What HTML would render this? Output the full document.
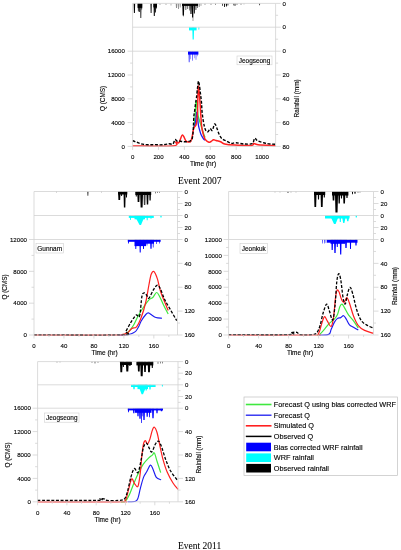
<!DOCTYPE html>
<html><head><meta charset="utf-8"><title>Figure</title>
<style>html,body{margin:0;padding:0;background:#fff;}body{width:401px;height:550px;overflow:hidden;}svg{display:block;}</style>
</head><body>
<svg width="401" height="550" viewBox="0 0 401 550">
<rect width="401" height="550" fill="#fff"/>
<rect x="137.6" y="3.4" width="4.6" height="4.5" fill="#000000"/>
<rect x="153.4" y="3.4" width="3.6" height="4" fill="#000000"/>
<rect x="182" y="3.4" width="16" height="2.5" fill="#000000"/>
<path d="M133.65,3.4H135.15L134.89,12.9H133.91ZM137.75,3.4H138.85L138.66,11.4H137.94ZM138.85,3.4H139.95L139.76,11.9H139.04ZM141.35,3.4H142.25L142.1,9.4H141.5ZM150.45,3.4H151.75L151.52,12.9H150.68ZM153.55,3.4H155.05L154.79,15.9H153.81ZM155,3.4H156.2L155.99,12.4H155.21ZM156.15,3.4H157.05L156.9,8.4H156.3ZM182.3,3.4H184.3L183.95,15.4H182.65ZM190.2,3.4H191.8L191.52,13.9H190.48ZM191.8,3.4H193.4L193.12,17.4H192.08ZM224,3.4H225.2L224.99,6.9H224.21ZM226,3.4H227.2L226.99,6.4H226.21ZM234.5,3.4H235.5L235.32,5.9H234.68ZM259.3,3.4H260.1L260,5.2H259.4Z" fill="#000000"/>
<path d="M140.05,3.4H141.55L141.29,17.9H140.31ZM222,3.4H223L222.82,5.9H222.18ZM227.5,3.4H228.5L228.32,5.4H227.68Z" fill="#000000" fill-opacity="0.8"/>
<path d="M159.7,3.4H160.3L160.3,5H159.7ZM165.7,3.4H166.3L166.3,5H165.7ZM170.7,3.4H171.3L171.3,5.4H170.7ZM186.8,3.4H188.4L188.12,8.9H187.08ZM204.6,3.4H205.4L205.3,4.9H204.7ZM240.5,3.4H241.5L241.32,4.9H240.68Z" fill="#000000" fill-opacity="0.5"/>
<path d="M175.75,3.4H177.25L176.99,7.9H176.01ZM198.5,3.4H199.9L199.66,6.9H198.74Z" fill="#000000" fill-opacity="0.45"/>
<path d="M177.75,3.4H179.25L178.99,8.9H178.01ZM179.7,3.4H180.9L180.69,7.4H179.91ZM243.6,3.4H244.4L244.3,4.6H243.7Z" fill="#000000" fill-opacity="0.4"/>
<path d="M183.2,3.4H184L183.9,16.4H183.3ZM188.9,3.4H190.1L189.89,10.4H189.11ZM192.6,3.4H193.4L193.3,20.9H192.7ZM196.7,3.4H198.1L197.86,7.9H196.94ZM210.6,3.4H211.4L211.3,4.9H210.7ZM215.1,3.4H215.9L215.8,4.9H215.2ZM233,3.4H234L233.82,5.4H233.18ZM236.5,3.4H237.5L237.32,4.9H236.68Z" fill="#000000" fill-opacity="0.6"/>
<path d="M185,3.4H186.6L186.32,9.9H185.28Z" fill="#000000" fill-opacity="0.55"/>
<path d="M193.7,3.4H195.1L194.86,13.4H193.94Z" fill="#000000" fill-opacity="0.9"/>
<path d="M195.2,3.4H196.6L196.36,9.9H195.44Z" fill="#000000" fill-opacity="0.7"/>
<path d="M200.4,3.4H201.6L201.39,5.9H200.61Z" fill="#000000" fill-opacity="0.35"/>
<rect x="189" y="27.2" width="7.6" height="3.2" fill="#00ffff"/>
<path d="M192.3,27.2H194.1L193.78,39.5H192.61ZM198.4,27.2H199.4L199.22,29.7H198.58Z" fill="#00ffff"/>
<rect x="188" y="51.2" width="10.4" height="3.4" fill="#0000ff"/>
<path d="M188.5,51.2H189.9L189.66,62.2H188.74Z" fill="#0000ff" fill-opacity="0.75"/>
<path d="M190.2,51.2H191L190.9,59.2H190.3Z" fill="#0000ff" fill-opacity="0.55"/>
<path d="M192.05,51.2H193.15L192.96,60.7H192.24Z" fill="#0000ff" fill-opacity="0.65"/>
<path d="M194.1,51.2H194.9L194.8,58.2H194.2ZM197.1,51.2H197.9L197.8,56.2H197.2Z" fill="#0000ff" fill-opacity="0.5"/>
<path d="M195.45,51.2H196.55L196.36,59.7H195.64Z" fill="#0000ff" fill-opacity="0.6"/>
<path d="M193.6,127.5 C193.7,127.17 193.98,126.75 194.2,125.5 C194.42,124.25 194.68,122.58 194.9,120 C195.12,117.42 195.3,113.17 195.5,110 C195.7,106.83 195.88,101.83 196.1,101 C196.32,100.17 196.57,103.5 196.8,105 C197.03,106.5 197.3,108.33 197.5,110 C197.7,111.67 197.7,113.33 198,115 C198.3,116.67 198.82,118.33 199.3,120 C199.78,121.67 200.37,123.25 200.9,125 C201.43,126.75 201.98,128.83 202.5,130.5 C203.02,132.17 203.58,133.83 204,135 C204.42,136.17 204.83,137.08 205,137.5" fill="none" stroke="#3fe83f" stroke-width="1.35" stroke-linejoin="round"/>
<path d="M193.6,127.5 C193.82,127.08 194.53,126.25 194.9,125 C195.27,123.75 195.55,121.67 195.8,120 C196.05,118.33 196.23,116.3 196.4,115 C196.57,113.7 196.62,111.87 196.8,112.2 C196.98,112.53 197.23,114.87 197.5,117 C197.77,119.13 198.05,122.83 198.4,125 C198.75,127.17 199.17,128.42 199.6,130 C200.03,131.58 200.35,133.03 201,134.5 C201.65,135.97 202.83,137.85 203.5,138.8 C204.17,139.75 204.75,139.97 205,140.2" fill="none" stroke="#1c1cf0" stroke-width="1.3" stroke-linejoin="round"/>
<path d="M132.6,146 C139.33,146 165.77,146.67 173,146 C180.23,145.33 175,142.57 176,142 C177,141.43 177.93,143.77 179,142.6 C180.07,141.43 181.23,135.27 182.4,135 C183.57,134.73 184.9,139.83 186,141 C187.1,142.17 188.25,141.92 189,142 C189.75,142.08 190,142.25 190.5,141.5 C191,140.75 191.53,139.42 192,137.5 C192.47,135.58 192.88,131.75 193.3,130 C193.72,128.25 194.05,127.83 194.5,127 C194.95,126.17 195.62,126 196,125 C196.38,124 196.57,122.83 196.8,121 C197.03,119.17 197.25,116.67 197.4,114 C197.55,111.33 197.6,108.67 197.7,105 C197.8,101.33 197.88,95.17 198,92 C198.12,88.83 198.23,86.33 198.4,86 C198.57,85.67 198.8,88.17 199,90 C199.2,91.83 199.4,94.5 199.6,97 C199.8,99.5 200,102 200.2,105 C200.4,108 200.58,111.67 200.8,115 C201.02,118.33 201.22,122.33 201.5,125 C201.78,127.67 202.08,129.08 202.5,131 C202.92,132.92 203.5,135.03 204,136.5 C204.5,137.97 204.68,138.83 205.5,139.8 C206.32,140.77 207.98,142.02 208.9,142.3 C209.82,142.58 210.22,141.92 211,141.5 C211.78,141.08 212.77,139.97 213.6,139.8 C214.43,139.63 214.85,140.17 216,140.5 C217.15,140.83 219.05,141.22 220.5,141.8 C221.95,142.38 222.38,143.45 224.7,144 C227.02,144.55 229.93,144.87 234.4,145.1 C238.87,145.33 248.3,145.68 251.5,145.4 C254.7,145.12 252.52,143.5 253.6,143.4 C254.68,143.3 254.33,144.4 258,144.8 C261.67,145.2 272.67,145.63 275.6,145.8" fill="none" stroke="#ff2020" stroke-width="1.5" stroke-linejoin="round"/>
<path d="M132.6,140.6 C133,140.77 134.1,141.27 135,141.6 C135.9,141.93 137,142.23 138,142.6 C139,142.97 139.83,143.47 141,143.8 C142.17,144.13 143.5,144.43 145,144.6 C146.5,144.77 148.33,144.8 150,144.8 C151.67,144.8 153.33,144.58 155,144.6 C156.67,144.62 158.33,144.92 160,144.9 C161.67,144.88 163.5,144.68 165,144.5 C166.5,144.32 167.83,143.85 169,143.8 C170.17,143.75 171.25,144.3 172,144.2 C172.75,144.1 173,143.97 173.5,143.2 C174,142.43 174.42,139.97 175,139.6 C175.58,139.23 176.33,140.77 177,141 C177.67,141.23 178.17,140.92 179,141 C179.83,141.08 181,141.37 182,141.5 C183,141.63 184,141.78 185,141.8 C186,141.82 187.17,141.73 188,141.6 C188.83,141.47 189.33,141.35 190,141 C190.67,140.65 191.5,140.83 192,139.5 C192.5,138.17 192.77,135.08 193,133 C193.23,130.92 193.3,128.83 193.4,127 C193.5,125.17 193.52,123.83 193.6,122 C193.68,120.17 193.75,117.67 193.9,116 C194.05,114.33 194.23,114 194.5,112 C194.77,110 195.17,106.42 195.5,104 C195.83,101.58 196.17,100.17 196.5,97.5 C196.83,94.83 197.17,90.72 197.5,88 C197.83,85.28 198.17,81.53 198.5,81.2 C198.83,80.87 199.17,83.87 199.5,86 C199.83,88.13 200.17,91.23 200.5,94 C200.83,96.77 201.25,99.77 201.5,102.6 C201.75,105.43 201.75,108.27 202,111 C202.25,113.73 202.62,116.5 203,119 C203.38,121.5 203.83,124.08 204.3,126 C204.77,127.92 205.22,129.53 205.8,130.5 C206.38,131.47 207.07,132.1 207.8,131.8 C208.53,131.5 209.45,128.92 210.2,128.7 C210.95,128.48 211.55,131.28 212.3,130.5 C213.05,129.72 213.92,124.33 214.7,124 C215.48,123.67 216.28,126.83 217,128.5 C217.72,130.17 218.2,132.33 219,134 C219.8,135.67 220.58,137.33 221.8,138.5 C223.02,139.67 224.73,140.2 226.3,141 C227.87,141.8 229.58,143.02 231.2,143.3 C232.82,143.58 233.83,142.58 236,142.7 C238.17,142.82 241.48,143.87 244.2,144 C246.92,144.13 250.55,144.47 252.3,143.5 C254.05,142.53 253.75,138.62 254.7,138.2 C255.65,137.78 255.97,140.12 258,141 C260.03,141.88 263.97,142.95 266.9,143.5 C269.83,144.05 274.15,144.17 275.6,144.3" fill="none" stroke="#000000" stroke-width="1.4" stroke-linejoin="round" stroke-dasharray="3,1.6"/>
<line x1="132.6" y1="3.4" x2="275.6" y2="3.4" stroke="#d2d2d2" stroke-width="0.8"/>
<line x1="132.6" y1="27.2" x2="275.6" y2="27.2" stroke="#d2d2d2" stroke-width="0.8"/>
<line x1="132.6" y1="51.2" x2="275.6" y2="51.2" stroke="#d2d2d2" stroke-width="0.8"/>
<line x1="132.6" y1="3.4" x2="132.6" y2="146.4" stroke="#d2d2d2" stroke-width="0.8"/>
<line x1="275.6" y1="3.4" x2="275.6" y2="146.4" stroke="#d2d2d2" stroke-width="0.8"/>
<line x1="132.6" y1="146.4" x2="275.6" y2="146.4" stroke="#d2d2d2" stroke-width="0.8"/>
<line x1="127.6" y1="51.2" x2="132.6" y2="51.2" stroke="#d2d2d2" stroke-width="0.8"/>
<text x="124.8" y="53.4" font-size="6.15" text-anchor="end" fill="#000000" font-family="'Liberation Sans', Arial, sans-serif" stroke="#000000" stroke-width="0.12">16000</text>
<line x1="127.6" y1="75" x2="132.6" y2="75" stroke="#d2d2d2" stroke-width="0.8"/>
<text x="124.8" y="77.2" font-size="6.15" text-anchor="end" fill="#000000" font-family="'Liberation Sans', Arial, sans-serif" stroke="#000000" stroke-width="0.12">12000</text>
<line x1="127.6" y1="98.8" x2="132.6" y2="98.8" stroke="#d2d2d2" stroke-width="0.8"/>
<text x="124.8" y="101" font-size="6.15" text-anchor="end" fill="#000000" font-family="'Liberation Sans', Arial, sans-serif" stroke="#000000" stroke-width="0.12">8000</text>
<line x1="127.6" y1="122.6" x2="132.6" y2="122.6" stroke="#d2d2d2" stroke-width="0.8"/>
<text x="124.8" y="124.8" font-size="6.15" text-anchor="end" fill="#000000" font-family="'Liberation Sans', Arial, sans-serif" stroke="#000000" stroke-width="0.12">4000</text>
<line x1="127.6" y1="146.4" x2="132.6" y2="146.4" stroke="#d2d2d2" stroke-width="0.8"/>
<text x="124.8" y="148.6" font-size="6.15" text-anchor="end" fill="#000000" font-family="'Liberation Sans', Arial, sans-serif" stroke="#000000" stroke-width="0.12">0</text>
<line x1="130.1" y1="63.1" x2="132.6" y2="63.1" stroke="#d2d2d2" stroke-width="0.8"/>
<line x1="130.1" y1="86.9" x2="132.6" y2="86.9" stroke="#d2d2d2" stroke-width="0.8"/>
<line x1="130.1" y1="110.7" x2="132.6" y2="110.7" stroke="#d2d2d2" stroke-width="0.8"/>
<line x1="130.1" y1="134.5" x2="132.6" y2="134.5" stroke="#d2d2d2" stroke-width="0.8"/>
<line x1="275.6" y1="3.4" x2="280.6" y2="3.4" stroke="#d2d2d2" stroke-width="0.8"/>
<text x="282.6" y="5.6" font-size="6.15" text-anchor="start" fill="#000000" font-family="'Liberation Sans', Arial, sans-serif" stroke="#000000" stroke-width="0.12">0</text>
<line x1="275.6" y1="27.2" x2="280.6" y2="27.2" stroke="#d2d2d2" stroke-width="0.8"/>
<text x="282.6" y="29.4" font-size="6.15" text-anchor="start" fill="#000000" font-family="'Liberation Sans', Arial, sans-serif" stroke="#000000" stroke-width="0.12">0</text>
<line x1="275.6" y1="51.2" x2="280.6" y2="51.2" stroke="#d2d2d2" stroke-width="0.8"/>
<text x="282.6" y="53.4" font-size="6.15" text-anchor="start" fill="#000000" font-family="'Liberation Sans', Arial, sans-serif" stroke="#000000" stroke-width="0.12">0</text>
<line x1="275.6" y1="75" x2="280.6" y2="75" stroke="#d2d2d2" stroke-width="0.8"/>
<text x="282.6" y="77.2" font-size="6.15" text-anchor="start" fill="#000000" font-family="'Liberation Sans', Arial, sans-serif" stroke="#000000" stroke-width="0.12">20</text>
<line x1="275.6" y1="98.8" x2="280.6" y2="98.8" stroke="#d2d2d2" stroke-width="0.8"/>
<text x="282.6" y="101" font-size="6.15" text-anchor="start" fill="#000000" font-family="'Liberation Sans', Arial, sans-serif" stroke="#000000" stroke-width="0.12">40</text>
<line x1="275.6" y1="122.6" x2="280.6" y2="122.6" stroke="#d2d2d2" stroke-width="0.8"/>
<text x="282.6" y="124.8" font-size="6.15" text-anchor="start" fill="#000000" font-family="'Liberation Sans', Arial, sans-serif" stroke="#000000" stroke-width="0.12">60</text>
<line x1="275.6" y1="146.4" x2="280.6" y2="146.4" stroke="#d2d2d2" stroke-width="0.8"/>
<text x="282.6" y="148.6" font-size="6.15" text-anchor="start" fill="#000000" font-family="'Liberation Sans', Arial, sans-serif" stroke="#000000" stroke-width="0.12">80</text>
<line x1="275.6" y1="15.3" x2="278.1" y2="15.3" stroke="#d2d2d2" stroke-width="0.8"/>
<line x1="275.6" y1="39.2" x2="278.1" y2="39.2" stroke="#d2d2d2" stroke-width="0.8"/>
<line x1="275.6" y1="63.1" x2="278.1" y2="63.1" stroke="#d2d2d2" stroke-width="0.8"/>
<line x1="275.6" y1="86.9" x2="278.1" y2="86.9" stroke="#d2d2d2" stroke-width="0.8"/>
<line x1="275.6" y1="110.7" x2="278.1" y2="110.7" stroke="#d2d2d2" stroke-width="0.8"/>
<line x1="275.6" y1="134.5" x2="278.1" y2="134.5" stroke="#d2d2d2" stroke-width="0.8"/>
<line x1="132.6" y1="146.4" x2="132.6" y2="149.9" stroke="#d2d2d2" stroke-width="0.8"/>
<text x="132.6" y="159.2" font-size="6.15" text-anchor="middle" fill="#000000" font-family="'Liberation Sans', Arial, sans-serif" stroke="#000000" stroke-width="0.12">0</text>
<line x1="158.5" y1="146.4" x2="158.5" y2="149.9" stroke="#d2d2d2" stroke-width="0.8"/>
<text x="158.5" y="159.2" font-size="6.15" text-anchor="middle" fill="#000000" font-family="'Liberation Sans', Arial, sans-serif" stroke="#000000" stroke-width="0.12">200</text>
<line x1="184.4" y1="146.4" x2="184.4" y2="149.9" stroke="#d2d2d2" stroke-width="0.8"/>
<text x="184.4" y="159.2" font-size="6.15" text-anchor="middle" fill="#000000" font-family="'Liberation Sans', Arial, sans-serif" stroke="#000000" stroke-width="0.12">400</text>
<line x1="210.3" y1="146.4" x2="210.3" y2="149.9" stroke="#d2d2d2" stroke-width="0.8"/>
<text x="210.3" y="159.2" font-size="6.15" text-anchor="middle" fill="#000000" font-family="'Liberation Sans', Arial, sans-serif" stroke="#000000" stroke-width="0.12">600</text>
<line x1="236.2" y1="146.4" x2="236.2" y2="149.9" stroke="#d2d2d2" stroke-width="0.8"/>
<text x="236.2" y="159.2" font-size="6.15" text-anchor="middle" fill="#000000" font-family="'Liberation Sans', Arial, sans-serif" stroke="#000000" stroke-width="0.12">800</text>
<line x1="262.1" y1="146.4" x2="262.1" y2="149.9" stroke="#d2d2d2" stroke-width="0.8"/>
<text x="262.1" y="159.2" font-size="6.15" text-anchor="middle" fill="#000000" font-family="'Liberation Sans', Arial, sans-serif" stroke="#000000" stroke-width="0.12">1000</text>
<text x="203" y="165.7" font-size="6.5" text-anchor="middle" fill="#000000" font-family="'Liberation Sans', Arial, sans-serif" stroke="#000000" stroke-width="0.12">Time (hr)</text>
<text x="105" y="98.5" font-size="6.4" text-anchor="middle" fill="#000000" font-family="'Liberation Sans', Arial, sans-serif" stroke="#000000" stroke-width="0.12" transform="rotate(-90 105 98.5)">Q (CMS)</text>
<text x="298.8" y="98.4" font-size="6.4" text-anchor="middle" fill="#000000" font-family="'Liberation Sans', Arial, sans-serif" stroke="#000000" stroke-width="0.12" transform="rotate(-90 298.8 98.4)">Rainfall (mm)</text>
<rect x="237" y="56" width="35" height="8.8" fill="#fff" stroke="#d0d0d0" stroke-width="0.6"/>
<text x="254.5" y="62.6" font-size="6.45" text-anchor="middle" fill="#000000" font-family="'Liberation Sans', Arial, sans-serif" stroke="#000000" stroke-width="0.12">Jeogseong</text>
<text x="199.8" y="183.6" font-size="9.5" text-anchor="middle" fill="#000000" font-family="'Liberation Serif', 'Times New Roman', serif" stroke="#000000" stroke-width="0.05">Event 2007</text>
<rect x="118.2" y="191.5" width="9" height="3" fill="#000000"/>
<rect x="135.4" y="191.5" width="15.8" height="3.5" fill="#000000"/>
<path d="M118,191.5H120.6L120.14,200H118.45ZM120.9,191.5H122.3L122.05,196H121.14ZM123.5,191.5H125.7L125.31,207.5H123.88ZM125.8,191.5H127.2L126.95,197.5H126.05ZM135.6,191.5H137L136.76,196.5H135.84ZM137.2,191.5H139.8L139.34,202H137.66ZM140.1,191.5H143.1L142.57,207.5H140.62ZM146.4,191.5H148.6L148.22,204.5H146.78ZM149.2,191.5H151L150.69,200.5H149.51ZM87.4,191.5H88.4L88.23,195.8H87.58Z" fill="#000000"/>
<path d="M143.5,191.5H145.7L145.31,205H143.88Z" fill="#000000" fill-opacity="0.75"/>
<path d="M155,191.5H156L155.82,193.5H155.18ZM157,191.5H158L157.82,193.1H157.18Z" fill="#000000" fill-opacity="0.6"/>
<path d="M159,191.5H160L159.82,192.9H159.18Z" fill="#000000" fill-opacity="0.5"/>
<path d="M56,191.5H57L56.83,192.5H56.17ZM101,191.5H102L101.83,192.5H101.17Z" fill="#000000" fill-opacity="0.4"/>
<rect x="128.8" y="215.5" width="25" height="2.4" fill="#00ffff"/>
<rect x="134.5" y="215.5" width="10.5" height="3.8" fill="#00ffff"/>
<path d="M134.5,215.5L145,215.5L141,225.1L139.6,225.1Z" fill="#00ffff"/>
<path d="M129.9,215.5H131.1L130.89,220H130.11ZM146.5,215.5H147.9L147.66,220.3H146.74ZM150.5,215.5H151.5L151.32,219H150.68ZM160.2,215.5H161.8L161.52,217.5H160.48Z" fill="#00ffff"/>
<rect x="127.8" y="239.5" width="32.8" height="2.3" fill="#0000ff"/>
<rect x="134.5" y="239.5" width="11.5" height="6.6" fill="#0000ff"/>
<rect x="146" y="239.5" width="8" height="4.2" fill="#0000ff"/>
<path d="M127.9,239.5H129.1L128.89,243.5H128.11ZM135.1,239.5H136.5L136.26,249H135.34ZM139.4,239.5H141L140.72,252.5H139.68ZM142.8,239.5H144.2L143.96,249H143.04ZM146.5,239.5H147.5L147.32,245.5H146.68ZM150.1,239.5H151.9L151.59,248.8H150.41ZM152.7,239.5H153.7L153.52,247.5H152.88ZM156.25,239.5H157.15L157,244H156.4ZM159.25,239.5H160.15L160,243.5H159.4Z" fill="#0000ff"/>
<path d="M124,335 C124.8,334.42 127.22,333.12 128.8,331.5 C130.38,329.88 131.95,327.88 133.5,325.3 C135.05,322.72 136.3,319.22 138.1,316 C139.9,312.78 142.5,308.7 144.3,306 C146.1,303.3 147.48,301.22 148.9,299.8 C150.32,298.38 151.52,298.72 152.8,297.5 C154.08,296.28 155.45,292.63 156.6,292.5 C157.75,292.37 158.4,294.33 159.7,296.7 C161,299.07 162.98,303.82 164.4,306.7 C165.82,309.58 167.57,312.78 168.2,314" fill="none" stroke="#3fe83f" stroke-width="1.2" stroke-linejoin="round"/>
<path d="M118,335 C119,335 122.1,335.13 124,335 C125.9,334.87 127.9,334.53 129.4,334.2 C130.9,333.87 131.9,333.53 133,333 C134.1,332.47 135,332.17 136,331 C137,329.83 138.13,327.67 139,326 C139.87,324.33 140.07,322.92 141.2,321 C142.33,319.08 144.6,315.85 145.8,314.5 C147,313.15 147.37,312.78 148.4,312.9 C149.43,313.02 150.75,314.43 152,315.2 C153.25,315.97 154.23,316.98 155.9,317.5 C157.57,318.02 160.98,318.17 162,318.3" fill="none" stroke="#1c1cf0" stroke-width="1.15" stroke-linejoin="round"/>
<path d="M34,335 C48,335 103.33,335.07 118,335 C132.67,334.93 120.45,334.93 122,334.6 C123.55,334.27 125.65,334.03 127.3,333 C128.95,331.97 130.37,329.43 131.9,328.4 C133.43,327.37 134.95,328.62 136.5,326.8 C138.05,324.98 139.65,321.63 141.2,317.5 C142.75,313.37 144.52,307.42 145.8,302 C147.08,296.58 148,289.62 148.9,285 C149.8,280.38 150.37,276.55 151.2,274.3 C152.03,272.05 152.87,270.73 153.9,271.5 C154.93,272.27 156.3,275.6 157.4,278.9 C158.5,282.2 159.33,287.57 160.5,291.3 C161.67,295.03 163.12,298.08 164.4,301.3 C165.68,304.52 167.57,309.05 168.2,310.6" fill="none" stroke="#ff2020" stroke-width="1.2" stroke-linejoin="round"/>
<path d="M34,334.8 C48.67,334.8 106.72,335.35 122,334.8 C137.28,334.25 124.3,333.47 125.7,331.5 C127.1,329.53 129.1,325.2 130.4,323 C131.7,320.8 132.48,319.67 133.5,318.3 C134.52,316.93 135.48,315.18 136.5,314.8 C137.52,314.42 138.68,319.13 139.6,316 C140.52,312.87 141.17,299.87 142,296 C142.83,292.13 143.83,292.95 144.6,292.8 C145.37,292.65 145.88,294.2 146.6,295.1 C147.32,296 147.75,299.1 148.9,298.2 C150.05,297.3 152.08,291.88 153.5,289.7 C154.92,287.52 156.23,285.22 157.4,285.1 C158.57,284.98 159.33,286.68 160.5,289 C161.67,291.32 162.73,295.53 164.4,299 C166.07,302.47 168.45,306.2 170.5,309.8 C172.55,313.4 175.67,318.8 176.7,320.6" fill="none" stroke="#000000" stroke-width="1.3" stroke-linejoin="round" stroke-dasharray="3,1.6"/>
<line x1="34" y1="191.5" x2="177.5" y2="191.5" stroke="#d2d2d2" stroke-width="0.8"/>
<line x1="34" y1="215.5" x2="177.5" y2="215.5" stroke="#d2d2d2" stroke-width="0.8"/>
<line x1="34" y1="239.5" x2="177.5" y2="239.5" stroke="#d2d2d2" stroke-width="0.8"/>
<line x1="34" y1="191.5" x2="34" y2="335" stroke="#d2d2d2" stroke-width="0.8"/>
<line x1="177.5" y1="191.5" x2="177.5" y2="335" stroke="#d2d2d2" stroke-width="0.8"/>
<line x1="34" y1="335" x2="177.5" y2="335" stroke="#d2d2d2" stroke-width="0.8"/>
<line x1="29" y1="239.5" x2="34" y2="239.5" stroke="#d2d2d2" stroke-width="0.8"/>
<text x="27" y="241.7" font-size="6.15" text-anchor="end" fill="#000000" font-family="'Liberation Sans', Arial, sans-serif" stroke="#000000" stroke-width="0.12">12000</text>
<line x1="29" y1="271.33" x2="34" y2="271.33" stroke="#d2d2d2" stroke-width="0.8"/>
<text x="27" y="273.53" font-size="6.15" text-anchor="end" fill="#000000" font-family="'Liberation Sans', Arial, sans-serif" stroke="#000000" stroke-width="0.12">8000</text>
<line x1="29" y1="303.17" x2="34" y2="303.17" stroke="#d2d2d2" stroke-width="0.8"/>
<text x="27" y="305.37" font-size="6.15" text-anchor="end" fill="#000000" font-family="'Liberation Sans', Arial, sans-serif" stroke="#000000" stroke-width="0.12">4000</text>
<line x1="29" y1="335" x2="34" y2="335" stroke="#d2d2d2" stroke-width="0.8"/>
<text x="27" y="337.2" font-size="6.15" text-anchor="end" fill="#000000" font-family="'Liberation Sans', Arial, sans-serif" stroke="#000000" stroke-width="0.12">0</text>
<line x1="31.5" y1="255.42" x2="34" y2="255.42" stroke="#d2d2d2" stroke-width="0.8"/>
<line x1="31.5" y1="287.25" x2="34" y2="287.25" stroke="#d2d2d2" stroke-width="0.8"/>
<line x1="31.5" y1="319.08" x2="34" y2="319.08" stroke="#d2d2d2" stroke-width="0.8"/>
<line x1="177.5" y1="191.5" x2="182.5" y2="191.5" stroke="#d2d2d2" stroke-width="0.8"/>
<text x="184.5" y="193.7" font-size="6.15" text-anchor="start" fill="#000000" font-family="'Liberation Sans', Arial, sans-serif" stroke="#000000" stroke-width="0.12">0</text>
<line x1="177.5" y1="203.5" x2="182.5" y2="203.5" stroke="#d2d2d2" stroke-width="0.8"/>
<text x="184.5" y="205.7" font-size="6.15" text-anchor="start" fill="#000000" font-family="'Liberation Sans', Arial, sans-serif" stroke="#000000" stroke-width="0.12">20</text>
<line x1="177.5" y1="215.5" x2="182.5" y2="215.5" stroke="#d2d2d2" stroke-width="0.8"/>
<text x="184.5" y="217.7" font-size="6.15" text-anchor="start" fill="#000000" font-family="'Liberation Sans', Arial, sans-serif" stroke="#000000" stroke-width="0.12">0</text>
<line x1="177.5" y1="227.5" x2="182.5" y2="227.5" stroke="#d2d2d2" stroke-width="0.8"/>
<text x="184.5" y="229.7" font-size="6.15" text-anchor="start" fill="#000000" font-family="'Liberation Sans', Arial, sans-serif" stroke="#000000" stroke-width="0.12">20</text>
<line x1="177.5" y1="239.5" x2="182.5" y2="239.5" stroke="#d2d2d2" stroke-width="0.8"/>
<text x="184.5" y="241.7" font-size="6.15" text-anchor="start" fill="#000000" font-family="'Liberation Sans', Arial, sans-serif" stroke="#000000" stroke-width="0.12">0</text>
<line x1="177.5" y1="263.38" x2="182.5" y2="263.38" stroke="#d2d2d2" stroke-width="0.8"/>
<text x="184.5" y="265.57" font-size="6.15" text-anchor="start" fill="#000000" font-family="'Liberation Sans', Arial, sans-serif" stroke="#000000" stroke-width="0.12">40</text>
<line x1="177.5" y1="287.25" x2="182.5" y2="287.25" stroke="#d2d2d2" stroke-width="0.8"/>
<text x="184.5" y="289.45" font-size="6.15" text-anchor="start" fill="#000000" font-family="'Liberation Sans', Arial, sans-serif" stroke="#000000" stroke-width="0.12">80</text>
<line x1="177.5" y1="311.12" x2="182.5" y2="311.12" stroke="#d2d2d2" stroke-width="0.8"/>
<text x="184.5" y="313.32" font-size="6.15" text-anchor="start" fill="#000000" font-family="'Liberation Sans', Arial, sans-serif" stroke="#000000" stroke-width="0.12">120</text>
<line x1="177.5" y1="335" x2="182.5" y2="335" stroke="#d2d2d2" stroke-width="0.8"/>
<text x="184.5" y="337.2" font-size="6.15" text-anchor="start" fill="#000000" font-family="'Liberation Sans', Arial, sans-serif" stroke="#000000" stroke-width="0.12">160</text>
<line x1="177.5" y1="197.5" x2="180" y2="197.5" stroke="#d2d2d2" stroke-width="0.8"/>
<line x1="177.5" y1="209.5" x2="180" y2="209.5" stroke="#d2d2d2" stroke-width="0.8"/>
<line x1="177.5" y1="221.5" x2="180" y2="221.5" stroke="#d2d2d2" stroke-width="0.8"/>
<line x1="177.5" y1="233.5" x2="180" y2="233.5" stroke="#d2d2d2" stroke-width="0.8"/>
<line x1="177.5" y1="251.44" x2="180" y2="251.44" stroke="#d2d2d2" stroke-width="0.8"/>
<line x1="177.5" y1="275.31" x2="180" y2="275.31" stroke="#d2d2d2" stroke-width="0.8"/>
<line x1="177.5" y1="299.19" x2="180" y2="299.19" stroke="#d2d2d2" stroke-width="0.8"/>
<line x1="177.5" y1="323.06" x2="180" y2="323.06" stroke="#d2d2d2" stroke-width="0.8"/>
<line x1="34" y1="335" x2="34" y2="338.5" stroke="#d2d2d2" stroke-width="0.8"/>
<text x="34" y="347.8" font-size="6.15" text-anchor="middle" fill="#000000" font-family="'Liberation Sans', Arial, sans-serif" stroke="#000000" stroke-width="0.12">0</text>
<line x1="63.96" y1="335" x2="63.96" y2="338.5" stroke="#d2d2d2" stroke-width="0.8"/>
<text x="63.96" y="347.8" font-size="6.15" text-anchor="middle" fill="#000000" font-family="'Liberation Sans', Arial, sans-serif" stroke="#000000" stroke-width="0.12">40</text>
<line x1="93.92" y1="335" x2="93.92" y2="338.5" stroke="#d2d2d2" stroke-width="0.8"/>
<text x="93.92" y="347.8" font-size="6.15" text-anchor="middle" fill="#000000" font-family="'Liberation Sans', Arial, sans-serif" stroke="#000000" stroke-width="0.12">80</text>
<line x1="123.88" y1="335" x2="123.88" y2="338.5" stroke="#d2d2d2" stroke-width="0.8"/>
<text x="123.88" y="347.8" font-size="6.15" text-anchor="middle" fill="#000000" font-family="'Liberation Sans', Arial, sans-serif" stroke="#000000" stroke-width="0.12">120</text>
<line x1="153.84" y1="335" x2="153.84" y2="338.5" stroke="#d2d2d2" stroke-width="0.8"/>
<text x="153.84" y="347.8" font-size="6.15" text-anchor="middle" fill="#000000" font-family="'Liberation Sans', Arial, sans-serif" stroke="#000000" stroke-width="0.12">160</text>
<line x1="48.98" y1="335" x2="48.98" y2="337" stroke="#d2d2d2" stroke-width="0.8"/>
<line x1="78.94" y1="335" x2="78.94" y2="337" stroke="#d2d2d2" stroke-width="0.8"/>
<line x1="108.9" y1="335" x2="108.9" y2="337" stroke="#d2d2d2" stroke-width="0.8"/>
<line x1="138.86" y1="335" x2="138.86" y2="337" stroke="#d2d2d2" stroke-width="0.8"/>
<line x1="168.82" y1="335" x2="168.82" y2="337" stroke="#d2d2d2" stroke-width="0.8"/>
<text x="104.5" y="355" font-size="6.5" text-anchor="middle" fill="#000000" font-family="'Liberation Sans', Arial, sans-serif" stroke="#000000" stroke-width="0.12">Time (hr)</text>
<text x="7.3" y="287" font-size="6.4" text-anchor="middle" fill="#000000" font-family="'Liberation Sans', Arial, sans-serif" stroke="#000000" stroke-width="0.12" transform="rotate(-90 7.3 287)">Q (CMS)</text>
<rect x="36" y="243.3" width="27.4" height="9.7" fill="#fff" stroke="#d0d0d0" stroke-width="0.6"/>
<text x="49.7" y="250.8" font-size="6.45" text-anchor="middle" fill="#000000" font-family="'Liberation Sans', Arial, sans-serif" stroke="#000000" stroke-width="0.12">Gunnam</text>
<rect x="314" y="191.5" width="11.2" height="3.5" fill="#000000"/>
<rect x="332" y="191.5" width="16.4" height="4" fill="#000000"/>
<path d="M314,191.5H316.6L316.15,207H314.45ZM317.7,191.5H319.3L319.02,199.5H317.98ZM320.5,191.5H323.1L322.65,207H320.95ZM323.5,191.5H325.1L324.82,197.5H323.78ZM332.3,191.5H334.7L334.28,200.5H332.72ZM334.9,191.5H338.1L337.54,212.5H335.46ZM338.2,191.5H340.2L339.85,203.5H338.55ZM340.7,191.5H342.3L342.02,198.5H340.98ZM343,191.5H345.4L344.98,203.5H343.42ZM346.1,191.5H347.9L347.58,198H346.42ZM351.9,191.5H353.1L352.89,194.3H352.11ZM354.25,191.5H355.75L355.49,193.7H354.51Z" fill="#000000"/>
<path d="M357.5,191.5H358.5L358.32,193H357.68Z" fill="#000000" fill-opacity="0.6"/>
<path d="M359.5,191.5H360.5L360.32,192.7H359.68ZM290.5,191.5H291.5L291.32,192.5H290.68Z" fill="#000000" fill-opacity="0.5"/>
<path d="M274.5,191.5H275.5L275.32,192.5H274.68ZM279.5,191.5H280.5L280.32,192.5H279.68ZM295.5,191.5H296.5L296.32,192.5H295.68Z" fill="#000000" fill-opacity="0.4"/>
<path d="M287.4,191.5H288.6L288.39,193.1H287.61Z" fill="#000000" fill-opacity="0.8"/>
<rect x="325" y="215.5" width="24.5" height="3" fill="#00ffff"/>
<path d="M330,215.5L339,215.5L335.6,224.1L334,224.1Z M341.8,215.5L346,215.5L344.4,223.0L343.2,223.0Z M346,215.5L349.5,215.5L348.4,221.3L347.2,221.3Z" fill="#00ffff"/>
<path d="M339.5,215.5H341.1L340.82,222H339.78ZM355.55,215.5H357.05L356.79,217.5H355.81Z" fill="#00ffff"/>
<rect x="327" y="239.5" width="30.5" height="3.2" fill="#0000ff"/>
<rect x="330.5" y="239.5" width="14.5" height="4.3" fill="#0000ff"/>
<path d="M322,239.5H323L322.82,243.5H322.18ZM324,239.5H325L324.82,243.5H324.18ZM325.5,239.5H326.5L326.32,243H325.68Z" fill="#0000ff" fill-opacity="0.7"/>
<path d="M331.3,239.5H333.1L332.78,250H331.62ZM334,239.5H336L335.65,253H334.35ZM336.55,239.5H338.05L337.79,247H336.81ZM339.8,239.5H341.6L341.28,254.5H340.12ZM345,239.5H347L346.65,248H345.35ZM349.8,239.5H351.2L350.95,249H350.05ZM355.1,239.5H356.9L356.58,245.5H355.42Z" fill="#0000ff"/>
<path d="M317,335 C317.37,334.95 317.9,335.73 319.2,334.7 C320.5,333.67 323.08,330.72 324.8,328.8 C326.52,326.88 327.92,324.8 329.5,323.2 C331.08,321.6 332.97,320.67 334.3,319.2 C335.63,317.73 336.57,316.52 337.5,314.4 C338.43,312.28 339.15,308.22 339.9,306.5 C340.65,304.78 341.2,303.83 342,304.1 C342.8,304.37 343.58,306.25 344.7,308.1 C345.82,309.95 347.23,313.08 348.7,315.2 C350.17,317.32 351.9,318.67 353.5,320.8 C355.1,322.93 357.5,326.8 358.3,328" fill="none" stroke="#3fe83f" stroke-width="1.2" stroke-linejoin="round"/>
<path d="M318.4,335 C320.12,334.9 326.58,335.3 328.7,334.4 C330.82,333.5 330.17,331.6 331.1,329.6 C332.03,327.6 333.23,324.27 334.3,322.4 C335.37,320.53 336.43,319.2 337.5,318.4 C338.57,317.6 339.68,318.05 340.7,317.6 C341.72,317.15 342.67,315.43 343.6,315.7 C344.53,315.97 345.32,317.68 346.3,319.2 C347.28,320.72 348.3,323.47 349.5,324.8 C350.7,326.13 352.03,326.32 353.5,327.2 C354.97,328.08 357.5,329.62 358.3,330.1" fill="none" stroke="#1c1cf0" stroke-width="1.15" stroke-linejoin="round"/>
<path d="M228.6,335 C242.5,335 297.03,335.23 312,335 C326.97,334.77 316.8,335.43 318.4,333.6 C320,331.77 320.6,326.8 321.6,324 C322.6,321.2 323.47,317.33 324.4,316.8 C325.33,316.27 326.08,319.2 327.2,320.8 C328.32,322.4 330.05,326.93 331.1,326.4 C332.15,325.87 332.75,322.52 333.5,317.6 C334.25,312.68 334.98,301.47 335.6,296.9 C336.22,292.33 336.62,291 337.2,290.2 C337.78,289.4 338.38,290.58 339.1,292.1 C339.82,293.62 340.7,297.57 341.5,299.3 C342.3,301.03 343.02,302.77 343.9,302.5 C344.78,302.23 345.87,297.57 346.8,297.7 C347.73,297.83 348.38,300.25 349.5,303.3 C350.62,306.35 352.03,312.28 353.5,316 C354.97,319.72 356.45,323.2 358.3,325.6 C360.15,328 362.08,329.12 364.6,330.4 C367.12,331.68 371.93,332.82 373.4,333.3" fill="none" stroke="#ff2020" stroke-width="1.2" stroke-linejoin="round"/>
<path d="M228.6,334.6 C238.67,334.6 278.6,334.93 289,334.6 C299.4,334.27 289.67,332.97 291,332.6 C292.33,332.23 295.5,332.07 297,332.4 C298.5,332.73 297.5,334.23 300,334.6 C302.5,334.97 309.2,334.9 312,334.6 C314.8,334.3 315.47,334.3 316.8,332.8 C318.13,331.3 318.93,328.93 320,325.6 C321.07,322.27 322.08,316.38 323.2,312.8 C324.32,309.22 325.65,304.35 326.7,304.1 C327.75,303.85 328.5,308.65 329.5,311.3 C330.5,313.95 331.77,321.07 332.7,320 C333.63,318.93 334.43,311.15 335.1,304.9 C335.77,298.65 336.12,287.68 336.7,282.5 C337.28,277.32 337.93,274.32 338.6,273.8 C339.27,273.28 340,275.7 340.7,279.4 C341.4,283.1 342.2,292.07 342.8,296 C343.4,299.93 343.83,301.8 344.3,303 C344.77,304.2 345.08,304.62 345.6,303.2 C346.12,301.78 346.67,297.15 347.4,294.5 C348.13,291.85 349.12,287.43 350,287.3 C350.88,287.17 351.58,289.97 352.7,293.7 C353.82,297.43 355.25,305.18 356.7,309.7 C358.15,314.22 359.55,318.15 361.4,320.8 C363.25,323.45 365.8,324.4 367.8,325.6 C369.8,326.8 372.47,327.6 373.4,328" fill="none" stroke="#000000" stroke-width="1.3" stroke-linejoin="round" stroke-dasharray="3,1.6"/>
<line x1="228.6" y1="191.5" x2="373.5" y2="191.5" stroke="#d2d2d2" stroke-width="0.8"/>
<line x1="228.6" y1="215.5" x2="373.5" y2="215.5" stroke="#d2d2d2" stroke-width="0.8"/>
<line x1="228.6" y1="239.5" x2="373.5" y2="239.5" stroke="#d2d2d2" stroke-width="0.8"/>
<line x1="228.6" y1="191.5" x2="228.6" y2="335" stroke="#d2d2d2" stroke-width="0.8"/>
<line x1="373.5" y1="191.5" x2="373.5" y2="335" stroke="#d2d2d2" stroke-width="0.8"/>
<line x1="228.6" y1="335" x2="373.5" y2="335" stroke="#d2d2d2" stroke-width="0.8"/>
<line x1="223.6" y1="239.5" x2="228.6" y2="239.5" stroke="#d2d2d2" stroke-width="0.8"/>
<text x="221.8" y="241.7" font-size="6.15" text-anchor="end" fill="#000000" font-family="'Liberation Sans', Arial, sans-serif" stroke="#000000" stroke-width="0.12">12000</text>
<line x1="223.6" y1="255.42" x2="228.6" y2="255.42" stroke="#d2d2d2" stroke-width="0.8"/>
<text x="221.8" y="257.62" font-size="6.15" text-anchor="end" fill="#000000" font-family="'Liberation Sans', Arial, sans-serif" stroke="#000000" stroke-width="0.12">10000</text>
<line x1="223.6" y1="271.33" x2="228.6" y2="271.33" stroke="#d2d2d2" stroke-width="0.8"/>
<text x="221.8" y="273.53" font-size="6.15" text-anchor="end" fill="#000000" font-family="'Liberation Sans', Arial, sans-serif" stroke="#000000" stroke-width="0.12">8000</text>
<line x1="223.6" y1="287.25" x2="228.6" y2="287.25" stroke="#d2d2d2" stroke-width="0.8"/>
<text x="221.8" y="289.45" font-size="6.15" text-anchor="end" fill="#000000" font-family="'Liberation Sans', Arial, sans-serif" stroke="#000000" stroke-width="0.12">6000</text>
<line x1="223.6" y1="303.17" x2="228.6" y2="303.17" stroke="#d2d2d2" stroke-width="0.8"/>
<text x="221.8" y="305.37" font-size="6.15" text-anchor="end" fill="#000000" font-family="'Liberation Sans', Arial, sans-serif" stroke="#000000" stroke-width="0.12">4000</text>
<line x1="223.6" y1="319.08" x2="228.6" y2="319.08" stroke="#d2d2d2" stroke-width="0.8"/>
<text x="221.8" y="321.28" font-size="6.15" text-anchor="end" fill="#000000" font-family="'Liberation Sans', Arial, sans-serif" stroke="#000000" stroke-width="0.12">2000</text>
<line x1="223.6" y1="335" x2="228.6" y2="335" stroke="#d2d2d2" stroke-width="0.8"/>
<text x="221.8" y="337.2" font-size="6.15" text-anchor="end" fill="#000000" font-family="'Liberation Sans', Arial, sans-serif" stroke="#000000" stroke-width="0.12">0</text>
<line x1="226.1" y1="247.46" x2="228.6" y2="247.46" stroke="#d2d2d2" stroke-width="0.8"/>
<line x1="226.1" y1="263.38" x2="228.6" y2="263.38" stroke="#d2d2d2" stroke-width="0.8"/>
<line x1="226.1" y1="279.29" x2="228.6" y2="279.29" stroke="#d2d2d2" stroke-width="0.8"/>
<line x1="226.1" y1="295.21" x2="228.6" y2="295.21" stroke="#d2d2d2" stroke-width="0.8"/>
<line x1="226.1" y1="311.12" x2="228.6" y2="311.12" stroke="#d2d2d2" stroke-width="0.8"/>
<line x1="226.1" y1="327.04" x2="228.6" y2="327.04" stroke="#d2d2d2" stroke-width="0.8"/>
<line x1="373.5" y1="191.5" x2="378.5" y2="191.5" stroke="#d2d2d2" stroke-width="0.8"/>
<text x="380.5" y="193.7" font-size="6.15" text-anchor="start" fill="#000000" font-family="'Liberation Sans', Arial, sans-serif" stroke="#000000" stroke-width="0.12">0</text>
<line x1="373.5" y1="203.5" x2="378.5" y2="203.5" stroke="#d2d2d2" stroke-width="0.8"/>
<text x="380.5" y="205.7" font-size="6.15" text-anchor="start" fill="#000000" font-family="'Liberation Sans', Arial, sans-serif" stroke="#000000" stroke-width="0.12">20</text>
<line x1="373.5" y1="215.5" x2="378.5" y2="215.5" stroke="#d2d2d2" stroke-width="0.8"/>
<text x="380.5" y="217.7" font-size="6.15" text-anchor="start" fill="#000000" font-family="'Liberation Sans', Arial, sans-serif" stroke="#000000" stroke-width="0.12">0</text>
<line x1="373.5" y1="227.5" x2="378.5" y2="227.5" stroke="#d2d2d2" stroke-width="0.8"/>
<text x="380.5" y="229.7" font-size="6.15" text-anchor="start" fill="#000000" font-family="'Liberation Sans', Arial, sans-serif" stroke="#000000" stroke-width="0.12">20</text>
<line x1="373.5" y1="239.5" x2="378.5" y2="239.5" stroke="#d2d2d2" stroke-width="0.8"/>
<text x="380.5" y="241.7" font-size="6.15" text-anchor="start" fill="#000000" font-family="'Liberation Sans', Arial, sans-serif" stroke="#000000" stroke-width="0.12">0</text>
<line x1="373.5" y1="263.38" x2="378.5" y2="263.38" stroke="#d2d2d2" stroke-width="0.8"/>
<text x="380.5" y="265.57" font-size="6.15" text-anchor="start" fill="#000000" font-family="'Liberation Sans', Arial, sans-serif" stroke="#000000" stroke-width="0.12">40</text>
<line x1="373.5" y1="287.25" x2="378.5" y2="287.25" stroke="#d2d2d2" stroke-width="0.8"/>
<text x="380.5" y="289.45" font-size="6.15" text-anchor="start" fill="#000000" font-family="'Liberation Sans', Arial, sans-serif" stroke="#000000" stroke-width="0.12">80</text>
<line x1="373.5" y1="311.12" x2="378.5" y2="311.12" stroke="#d2d2d2" stroke-width="0.8"/>
<text x="380.5" y="313.32" font-size="6.15" text-anchor="start" fill="#000000" font-family="'Liberation Sans', Arial, sans-serif" stroke="#000000" stroke-width="0.12">120</text>
<line x1="373.5" y1="335" x2="378.5" y2="335" stroke="#d2d2d2" stroke-width="0.8"/>
<text x="380.5" y="337.2" font-size="6.15" text-anchor="start" fill="#000000" font-family="'Liberation Sans', Arial, sans-serif" stroke="#000000" stroke-width="0.12">160</text>
<line x1="373.5" y1="197.5" x2="376" y2="197.5" stroke="#d2d2d2" stroke-width="0.8"/>
<line x1="373.5" y1="209.5" x2="376" y2="209.5" stroke="#d2d2d2" stroke-width="0.8"/>
<line x1="373.5" y1="221.5" x2="376" y2="221.5" stroke="#d2d2d2" stroke-width="0.8"/>
<line x1="373.5" y1="233.5" x2="376" y2="233.5" stroke="#d2d2d2" stroke-width="0.8"/>
<line x1="373.5" y1="251.44" x2="376" y2="251.44" stroke="#d2d2d2" stroke-width="0.8"/>
<line x1="373.5" y1="275.31" x2="376" y2="275.31" stroke="#d2d2d2" stroke-width="0.8"/>
<line x1="373.5" y1="299.19" x2="376" y2="299.19" stroke="#d2d2d2" stroke-width="0.8"/>
<line x1="373.5" y1="323.06" x2="376" y2="323.06" stroke="#d2d2d2" stroke-width="0.8"/>
<line x1="228.6" y1="335" x2="228.6" y2="338.5" stroke="#d2d2d2" stroke-width="0.8"/>
<text x="228.6" y="347.8" font-size="6.15" text-anchor="middle" fill="#000000" font-family="'Liberation Sans', Arial, sans-serif" stroke="#000000" stroke-width="0.12">0</text>
<line x1="258.6" y1="335" x2="258.6" y2="338.5" stroke="#d2d2d2" stroke-width="0.8"/>
<text x="258.6" y="347.8" font-size="6.15" text-anchor="middle" fill="#000000" font-family="'Liberation Sans', Arial, sans-serif" stroke="#000000" stroke-width="0.12">40</text>
<line x1="288.6" y1="335" x2="288.6" y2="338.5" stroke="#d2d2d2" stroke-width="0.8"/>
<text x="288.6" y="347.8" font-size="6.15" text-anchor="middle" fill="#000000" font-family="'Liberation Sans', Arial, sans-serif" stroke="#000000" stroke-width="0.12">80</text>
<line x1="318.6" y1="335" x2="318.6" y2="338.5" stroke="#d2d2d2" stroke-width="0.8"/>
<text x="318.6" y="347.8" font-size="6.15" text-anchor="middle" fill="#000000" font-family="'Liberation Sans', Arial, sans-serif" stroke="#000000" stroke-width="0.12">120</text>
<line x1="348.6" y1="335" x2="348.6" y2="338.5" stroke="#d2d2d2" stroke-width="0.8"/>
<text x="348.6" y="347.8" font-size="6.15" text-anchor="middle" fill="#000000" font-family="'Liberation Sans', Arial, sans-serif" stroke="#000000" stroke-width="0.12">160</text>
<line x1="243.6" y1="335" x2="243.6" y2="337" stroke="#d2d2d2" stroke-width="0.8"/>
<line x1="273.6" y1="335" x2="273.6" y2="337" stroke="#d2d2d2" stroke-width="0.8"/>
<line x1="303.6" y1="335" x2="303.6" y2="337" stroke="#d2d2d2" stroke-width="0.8"/>
<line x1="333.6" y1="335" x2="333.6" y2="337" stroke="#d2d2d2" stroke-width="0.8"/>
<line x1="363.6" y1="335" x2="363.6" y2="337" stroke="#d2d2d2" stroke-width="0.8"/>
<text x="300" y="355" font-size="6.5" text-anchor="middle" fill="#000000" font-family="'Liberation Sans', Arial, sans-serif" stroke="#000000" stroke-width="0.12">Time (hr)</text>
<text x="396.5" y="286" font-size="6.4" text-anchor="middle" fill="#000000" font-family="'Liberation Sans', Arial, sans-serif" stroke="#000000" stroke-width="0.12" transform="rotate(-90 396.5 286)">Rainfall (mm)</text>
<rect x="240" y="243.5" width="27.5" height="9.8" fill="#fff" stroke="#d0d0d0" stroke-width="0.6"/>
<text x="253.75" y="251.1" font-size="6.45" text-anchor="middle" fill="#000000" font-family="'Liberation Sans', Arial, sans-serif" stroke="#000000" stroke-width="0.12">Jeonkuk</text>
<rect x="120.2" y="361.6" width="11.7" height="3.4" fill="#000000"/>
<rect x="136.4" y="361.6" width="16.9" height="3.8" fill="#000000"/>
<path d="M119.9,361.6H122.7L122.21,372.3H120.39ZM122.7,361.6H124.1L123.86,367.1H122.95ZM125.8,361.6H128.8L128.28,371.6H126.33ZM129.1,361.6H130.7L130.42,366.1H129.38ZM137.5,361.6H140.1L139.65,371.6H137.96ZM140.2,361.6H143.2L142.67,376.2H140.72ZM143.8,361.6H146.2L145.78,372H144.22ZM147.6,361.6H150.4L149.91,372.3H148.09ZM151.5,361.6H153.1L152.82,368H151.78Z" fill="#000000"/>
<path d="M157.5,361.6H158.5L158.32,364H157.68ZM160,361.6H161L160.82,363.6H160.18ZM162,361.6H163L162.82,363.6H162.18ZM94.4,361.6H95.6L95.39,363.6H94.61Z" fill="#000000" fill-opacity="0.6"/>
<path d="M56.5,361.6H57.5L57.33,362.8H56.67ZM59.5,361.6H60.5L60.33,362.6H59.67Z" fill="#000000" fill-opacity="0.4"/>
<path d="M91.5,361.6H92.5L92.33,363H91.67ZM97.5,361.6H98.5L98.33,363H97.67Z" fill="#000000" fill-opacity="0.5"/>
<rect x="131" y="384.8" width="24.6" height="2.2" fill="#00ffff"/>
<rect x="137.5" y="384.8" width="10.5" height="4.3" fill="#00ffff"/>
<path d="M138,384.8L147,384.8L143,394.2L141.6,394.2Z" fill="#00ffff"/>
<path d="M133,384.8H135L134.65,389.2H133.35ZM145.3,384.8H147.1L146.78,390.4H145.61ZM149.1,384.8H150.9L150.59,389.4H149.41ZM161.75,384.8H163.05L162.82,386.6H161.98Z" fill="#00ffff"/>
<rect x="127.8" y="408.2" width="35.2" height="2.2" fill="#0000ff"/>
<rect x="135" y="408.2" width="16.5" height="4.6" fill="#0000ff"/>
<path d="M127.9,408.2H129.1L128.89,412.2H128.11ZM132.9,408.2H134.7L134.39,413.2H133.22ZM137.1,408.2H138.9L138.59,416.2H137.41ZM139,408.2H141L140.65,418.8H139.35ZM141.05,408.2H142.15L141.96,423H141.24ZM141.2,408.2H142.8L142.52,416.2H141.48ZM143,408.2H145L144.65,420H143.35ZM146.3,408.2H148.1L147.78,416.8H146.61ZM148.9,408.2H150.1L149.89,417.2H149.11ZM152,408.2H154L153.65,418.2H152.35ZM156.1,408.2H157.9L157.59,413.2H156.41ZM160.5,408.2H162.5L162.15,411.2H160.85Z" fill="#0000ff"/>
<path d="M121,501.8 C121.7,501.72 123.83,502.43 125.2,501.3 C126.57,500.17 127.73,498.05 129.2,495 C130.67,491.95 132.42,486.73 134,483 C135.58,479.27 137.12,475.78 138.7,472.6 C140.28,469.42 141.9,466.28 143.5,463.9 C145.1,461.52 146.83,459.77 148.3,458.3 C149.77,456.83 151.28,455.98 152.3,455.1 C153.32,454.22 153.6,451.93 154.4,453 C155.2,454.07 156.05,458.23 157.1,461.5 C158.15,464.77 160.1,470.75 160.7,472.6" fill="none" stroke="#3fe83f" stroke-width="1.2" stroke-linejoin="round"/>
<path d="M127.6,501.8 C128.92,501.72 133.77,501.92 135.5,501.3 C137.23,500.68 137.2,500.22 138,498.1 C138.8,495.98 139.38,492.05 140.3,488.6 C141.22,485.15 142.43,480.2 143.5,477.4 C144.57,474.6 145.55,473.85 146.7,471.8 C147.85,469.75 149.33,465.5 150.4,465.1 C151.47,464.7 152.12,467.35 153.1,469.4 C154.08,471.45 154.97,475.67 156.3,477.4 C157.63,479.13 160.3,479.4 161.1,479.8" fill="none" stroke="#1c1cf0" stroke-width="1.15" stroke-linejoin="round"/>
<path d="M37.6,501.8 C51,501.8 103.4,502.02 118,501.8 C132.6,501.58 123.47,502.43 125.2,500.5 C126.93,498.57 127.33,493.78 128.4,490.2 C129.47,486.62 130.55,480.07 131.6,479 C132.65,477.93 133.63,482.6 134.7,483.8 C135.77,485 137.07,488.07 138,486.2 C138.93,484.33 139.65,477.78 140.3,472.6 C140.95,467.42 141.37,459.88 141.9,455.1 C142.43,450.32 142.92,446.3 143.5,443.9 C144.08,441.5 144.73,440.7 145.4,440.7 C146.07,440.7 146.75,444.17 147.5,443.9 C148.25,443.63 149.1,441.35 149.9,439.1 C150.7,436.85 151.55,432.38 152.3,430.4 C153.05,428.42 153.6,426.8 154.4,427.2 C155.2,427.6 156.25,430.02 157.1,432.8 C157.95,435.58 158.57,439.65 159.5,443.9 C160.43,448.15 161.38,453.52 162.7,458.3 C164.02,463.08 165.68,468.48 167.4,472.6 C169.12,476.72 171.23,480.2 173,483 C174.77,485.8 177.17,488.33 178,489.4" fill="none" stroke="#ff2020" stroke-width="1.2" stroke-linejoin="round"/>
<path d="M37.6,500.4 C47.5,500.4 86.6,500.67 97,500.4 C107.4,500.13 98.83,499.07 100,498.8 C101.17,498.53 102.83,498.53 104,498.8 C105.17,499.07 104.67,500.13 107,500.4 C109.33,500.67 115.1,500.63 118,500.4 C120.9,500.17 122.8,500.57 124.4,499 C126,497.43 126.53,494.6 127.6,491 C128.67,487.4 129.68,481.13 130.8,477.4 C131.92,473.67 133.1,469.4 134.3,468.6 C135.5,467.8 136.87,474.05 138,472.6 C139.13,471.15 140.18,464.15 141.1,459.9 C142.02,455.65 142.62,449.9 143.5,447.1 C144.38,444.3 145.47,442.97 146.4,443.1 C147.33,443.23 148.2,446.43 149.1,447.9 C150,449.37 150.73,452.57 151.8,451.9 C152.87,451.23 154.35,445.68 155.5,443.9 C156.65,442.12 157.63,440.53 158.7,441.2 C159.77,441.87 160.72,444.78 161.9,447.9 C163.08,451.02 164.35,456.05 165.8,459.9 C167.25,463.75 168.6,467.55 170.6,471 C172.6,474.45 176.6,479 177.8,480.6" fill="none" stroke="#000000" stroke-width="1.3" stroke-linejoin="round" stroke-dasharray="3,1.6"/>
<line x1="37.6" y1="361.6" x2="178" y2="361.6" stroke="#d2d2d2" stroke-width="0.8"/>
<line x1="37.6" y1="384.8" x2="178" y2="384.8" stroke="#d2d2d2" stroke-width="0.8"/>
<line x1="37.6" y1="408.2" x2="178" y2="408.2" stroke="#d2d2d2" stroke-width="0.8"/>
<line x1="37.6" y1="361.6" x2="37.6" y2="501.8" stroke="#d2d2d2" stroke-width="0.8"/>
<line x1="178" y1="361.6" x2="178" y2="501.8" stroke="#d2d2d2" stroke-width="0.8"/>
<line x1="37.6" y1="501.8" x2="178" y2="501.8" stroke="#d2d2d2" stroke-width="0.8"/>
<line x1="32.6" y1="408.2" x2="37.6" y2="408.2" stroke="#d2d2d2" stroke-width="0.8"/>
<text x="30.8" y="410.4" font-size="6.15" text-anchor="end" fill="#000000" font-family="'Liberation Sans', Arial, sans-serif" stroke="#000000" stroke-width="0.12">16000</text>
<line x1="32.6" y1="431.6" x2="37.6" y2="431.6" stroke="#d2d2d2" stroke-width="0.8"/>
<text x="30.8" y="433.8" font-size="6.15" text-anchor="end" fill="#000000" font-family="'Liberation Sans', Arial, sans-serif" stroke="#000000" stroke-width="0.12">12000</text>
<line x1="32.6" y1="455" x2="37.6" y2="455" stroke="#d2d2d2" stroke-width="0.8"/>
<text x="30.8" y="457.2" font-size="6.15" text-anchor="end" fill="#000000" font-family="'Liberation Sans', Arial, sans-serif" stroke="#000000" stroke-width="0.12">8000</text>
<line x1="32.6" y1="478.4" x2="37.6" y2="478.4" stroke="#d2d2d2" stroke-width="0.8"/>
<text x="30.8" y="480.6" font-size="6.15" text-anchor="end" fill="#000000" font-family="'Liberation Sans', Arial, sans-serif" stroke="#000000" stroke-width="0.12">4000</text>
<line x1="32.6" y1="501.8" x2="37.6" y2="501.8" stroke="#d2d2d2" stroke-width="0.8"/>
<text x="30.8" y="504" font-size="6.15" text-anchor="end" fill="#000000" font-family="'Liberation Sans', Arial, sans-serif" stroke="#000000" stroke-width="0.12">0</text>
<line x1="35.1" y1="419.9" x2="37.6" y2="419.9" stroke="#d2d2d2" stroke-width="0.8"/>
<line x1="35.1" y1="443.3" x2="37.6" y2="443.3" stroke="#d2d2d2" stroke-width="0.8"/>
<line x1="35.1" y1="466.7" x2="37.6" y2="466.7" stroke="#d2d2d2" stroke-width="0.8"/>
<line x1="35.1" y1="490.1" x2="37.6" y2="490.1" stroke="#d2d2d2" stroke-width="0.8"/>
<line x1="178" y1="361.6" x2="183" y2="361.6" stroke="#d2d2d2" stroke-width="0.8"/>
<text x="185" y="363.8" font-size="6.15" text-anchor="start" fill="#000000" font-family="'Liberation Sans', Arial, sans-serif" stroke="#000000" stroke-width="0.12">0</text>
<line x1="178" y1="373.2" x2="183" y2="373.2" stroke="#d2d2d2" stroke-width="0.8"/>
<text x="185" y="375.4" font-size="6.15" text-anchor="start" fill="#000000" font-family="'Liberation Sans', Arial, sans-serif" stroke="#000000" stroke-width="0.12">20</text>
<line x1="178" y1="384.8" x2="183" y2="384.8" stroke="#d2d2d2" stroke-width="0.8"/>
<text x="185" y="387" font-size="6.15" text-anchor="start" fill="#000000" font-family="'Liberation Sans', Arial, sans-serif" stroke="#000000" stroke-width="0.12">0</text>
<line x1="178" y1="396.5" x2="183" y2="396.5" stroke="#d2d2d2" stroke-width="0.8"/>
<text x="185" y="398.7" font-size="6.15" text-anchor="start" fill="#000000" font-family="'Liberation Sans', Arial, sans-serif" stroke="#000000" stroke-width="0.12">20</text>
<line x1="178" y1="408.2" x2="183" y2="408.2" stroke="#d2d2d2" stroke-width="0.8"/>
<text x="185" y="410.4" font-size="6.15" text-anchor="start" fill="#000000" font-family="'Liberation Sans', Arial, sans-serif" stroke="#000000" stroke-width="0.12">0</text>
<line x1="178" y1="431.6" x2="183" y2="431.6" stroke="#d2d2d2" stroke-width="0.8"/>
<text x="185" y="433.8" font-size="6.15" text-anchor="start" fill="#000000" font-family="'Liberation Sans', Arial, sans-serif" stroke="#000000" stroke-width="0.12">40</text>
<line x1="178" y1="455" x2="183" y2="455" stroke="#d2d2d2" stroke-width="0.8"/>
<text x="185" y="457.2" font-size="6.15" text-anchor="start" fill="#000000" font-family="'Liberation Sans', Arial, sans-serif" stroke="#000000" stroke-width="0.12">80</text>
<line x1="178" y1="478.4" x2="183" y2="478.4" stroke="#d2d2d2" stroke-width="0.8"/>
<text x="185" y="480.6" font-size="6.15" text-anchor="start" fill="#000000" font-family="'Liberation Sans', Arial, sans-serif" stroke="#000000" stroke-width="0.12">120</text>
<line x1="178" y1="501.8" x2="183" y2="501.8" stroke="#d2d2d2" stroke-width="0.8"/>
<text x="185" y="504" font-size="6.15" text-anchor="start" fill="#000000" font-family="'Liberation Sans', Arial, sans-serif" stroke="#000000" stroke-width="0.12">160</text>
<line x1="178" y1="367.4" x2="180.5" y2="367.4" stroke="#d2d2d2" stroke-width="0.8"/>
<line x1="178" y1="379" x2="180.5" y2="379" stroke="#d2d2d2" stroke-width="0.8"/>
<line x1="178" y1="390.65" x2="180.5" y2="390.65" stroke="#d2d2d2" stroke-width="0.8"/>
<line x1="178" y1="402.35" x2="180.5" y2="402.35" stroke="#d2d2d2" stroke-width="0.8"/>
<line x1="178" y1="419.9" x2="180.5" y2="419.9" stroke="#d2d2d2" stroke-width="0.8"/>
<line x1="178" y1="443.3" x2="180.5" y2="443.3" stroke="#d2d2d2" stroke-width="0.8"/>
<line x1="178" y1="466.7" x2="180.5" y2="466.7" stroke="#d2d2d2" stroke-width="0.8"/>
<line x1="178" y1="490.1" x2="180.5" y2="490.1" stroke="#d2d2d2" stroke-width="0.8"/>
<line x1="37.6" y1="501.8" x2="37.6" y2="505.3" stroke="#d2d2d2" stroke-width="0.8"/>
<text x="37.6" y="514.8" font-size="6.15" text-anchor="middle" fill="#000000" font-family="'Liberation Sans', Arial, sans-serif" stroke="#000000" stroke-width="0.12">0</text>
<line x1="66.9" y1="501.8" x2="66.9" y2="505.3" stroke="#d2d2d2" stroke-width="0.8"/>
<text x="66.9" y="514.8" font-size="6.15" text-anchor="middle" fill="#000000" font-family="'Liberation Sans', Arial, sans-serif" stroke="#000000" stroke-width="0.12">40</text>
<line x1="96.2" y1="501.8" x2="96.2" y2="505.3" stroke="#d2d2d2" stroke-width="0.8"/>
<text x="96.2" y="514.8" font-size="6.15" text-anchor="middle" fill="#000000" font-family="'Liberation Sans', Arial, sans-serif" stroke="#000000" stroke-width="0.12">80</text>
<line x1="125.5" y1="501.8" x2="125.5" y2="505.3" stroke="#d2d2d2" stroke-width="0.8"/>
<text x="125.5" y="514.8" font-size="6.15" text-anchor="middle" fill="#000000" font-family="'Liberation Sans', Arial, sans-serif" stroke="#000000" stroke-width="0.12">120</text>
<line x1="154.8" y1="501.8" x2="154.8" y2="505.3" stroke="#d2d2d2" stroke-width="0.8"/>
<text x="154.8" y="514.8" font-size="6.15" text-anchor="middle" fill="#000000" font-family="'Liberation Sans', Arial, sans-serif" stroke="#000000" stroke-width="0.12">160</text>
<line x1="52.25" y1="501.8" x2="52.25" y2="503.8" stroke="#d2d2d2" stroke-width="0.8"/>
<line x1="81.55" y1="501.8" x2="81.55" y2="503.8" stroke="#d2d2d2" stroke-width="0.8"/>
<line x1="110.85" y1="501.8" x2="110.85" y2="503.8" stroke="#d2d2d2" stroke-width="0.8"/>
<line x1="140.15" y1="501.8" x2="140.15" y2="503.8" stroke="#d2d2d2" stroke-width="0.8"/>
<line x1="169.45" y1="501.8" x2="169.45" y2="503.8" stroke="#d2d2d2" stroke-width="0.8"/>
<text x="107.5" y="521.7" font-size="6.5" text-anchor="middle" fill="#000000" font-family="'Liberation Sans', Arial, sans-serif" stroke="#000000" stroke-width="0.12">Time (hr)</text>
<text x="9.8" y="455" font-size="6.4" text-anchor="middle" fill="#000000" font-family="'Liberation Sans', Arial, sans-serif" stroke="#000000" stroke-width="0.12" transform="rotate(-90 9.8 455)">Q (CMS)</text>
<text x="201" y="454.5" font-size="6.4" text-anchor="middle" fill="#000000" font-family="'Liberation Sans', Arial, sans-serif" stroke="#000000" stroke-width="0.12" transform="rotate(-90 201 454.5)">Rainfall (mm)</text>
<rect x="44.5" y="413" width="34.5" height="9.2" fill="#fff" stroke="#d0d0d0" stroke-width="0.6"/>
<text x="61.75" y="420" font-size="6.45" text-anchor="middle" fill="#000000" font-family="'Liberation Sans', Arial, sans-serif" stroke="#000000" stroke-width="0.12">Jeogseong</text>
<rect x="244" y="397" width="153.5" height="78.5" fill="#fff" stroke="#c0c0c0" stroke-width="0.7"/>
<line x1="245.8" y1="404.5" x2="271.5" y2="404.5" stroke="#3fe83f" stroke-width="1.6"/>
<line x1="245.8" y1="415.2" x2="271.5" y2="415.2" stroke="#1c1cf0" stroke-width="1.3"/>
<line x1="245.8" y1="425.8" x2="271.5" y2="425.8" stroke="#ff2020" stroke-width="1.6"/>
<line x1="245.8" y1="436.4" x2="271.5" y2="436.4" stroke="#000000" stroke-width="1.5"/>
<rect x="246.2" y="442.7" width="24.8" height="8.6" fill="#0000ff"/>
<rect x="246.2" y="453.4" width="24.8" height="8.6" fill="#00ffff"/>
<rect x="246.2" y="463.9" width="24.8" height="8.6" fill="#000000"/>
<text x="273.8" y="407.1" font-size="7.3" text-anchor="start" fill="#000000" font-family="'Liberation Sans', Arial, sans-serif" stroke="#000000" stroke-width="0.12">Forecast Q using bias corrected WRF</text>
<text x="273.8" y="417.8" font-size="7.3" text-anchor="start" fill="#000000" font-family="'Liberation Sans', Arial, sans-serif" stroke="#000000" stroke-width="0.12">Forecast Q</text>
<text x="273.8" y="428.4" font-size="7.3" text-anchor="start" fill="#000000" font-family="'Liberation Sans', Arial, sans-serif" stroke="#000000" stroke-width="0.12">Simulated Q</text>
<text x="273.8" y="439" font-size="7.3" text-anchor="start" fill="#000000" font-family="'Liberation Sans', Arial, sans-serif" stroke="#000000" stroke-width="0.12">Observed Q</text>
<text x="273.8" y="449.6" font-size="7.3" text-anchor="start" fill="#000000" font-family="'Liberation Sans', Arial, sans-serif" stroke="#000000" stroke-width="0.12">Bias corrected WRF rainfall</text>
<text x="273.8" y="460.3" font-size="7.3" text-anchor="start" fill="#000000" font-family="'Liberation Sans', Arial, sans-serif" stroke="#000000" stroke-width="0.12">WRF rainfall</text>
<text x="273.8" y="470.8" font-size="7.3" text-anchor="start" fill="#000000" font-family="'Liberation Sans', Arial, sans-serif" stroke="#000000" stroke-width="0.12">Observed rainfall</text>
<text x="199.6" y="549.1" font-size="9.5" text-anchor="middle" fill="#000000" font-family="'Liberation Serif', 'Times New Roman', serif" stroke="#000000" stroke-width="0.05">Event 2011</text>
</svg>
</body></html>
